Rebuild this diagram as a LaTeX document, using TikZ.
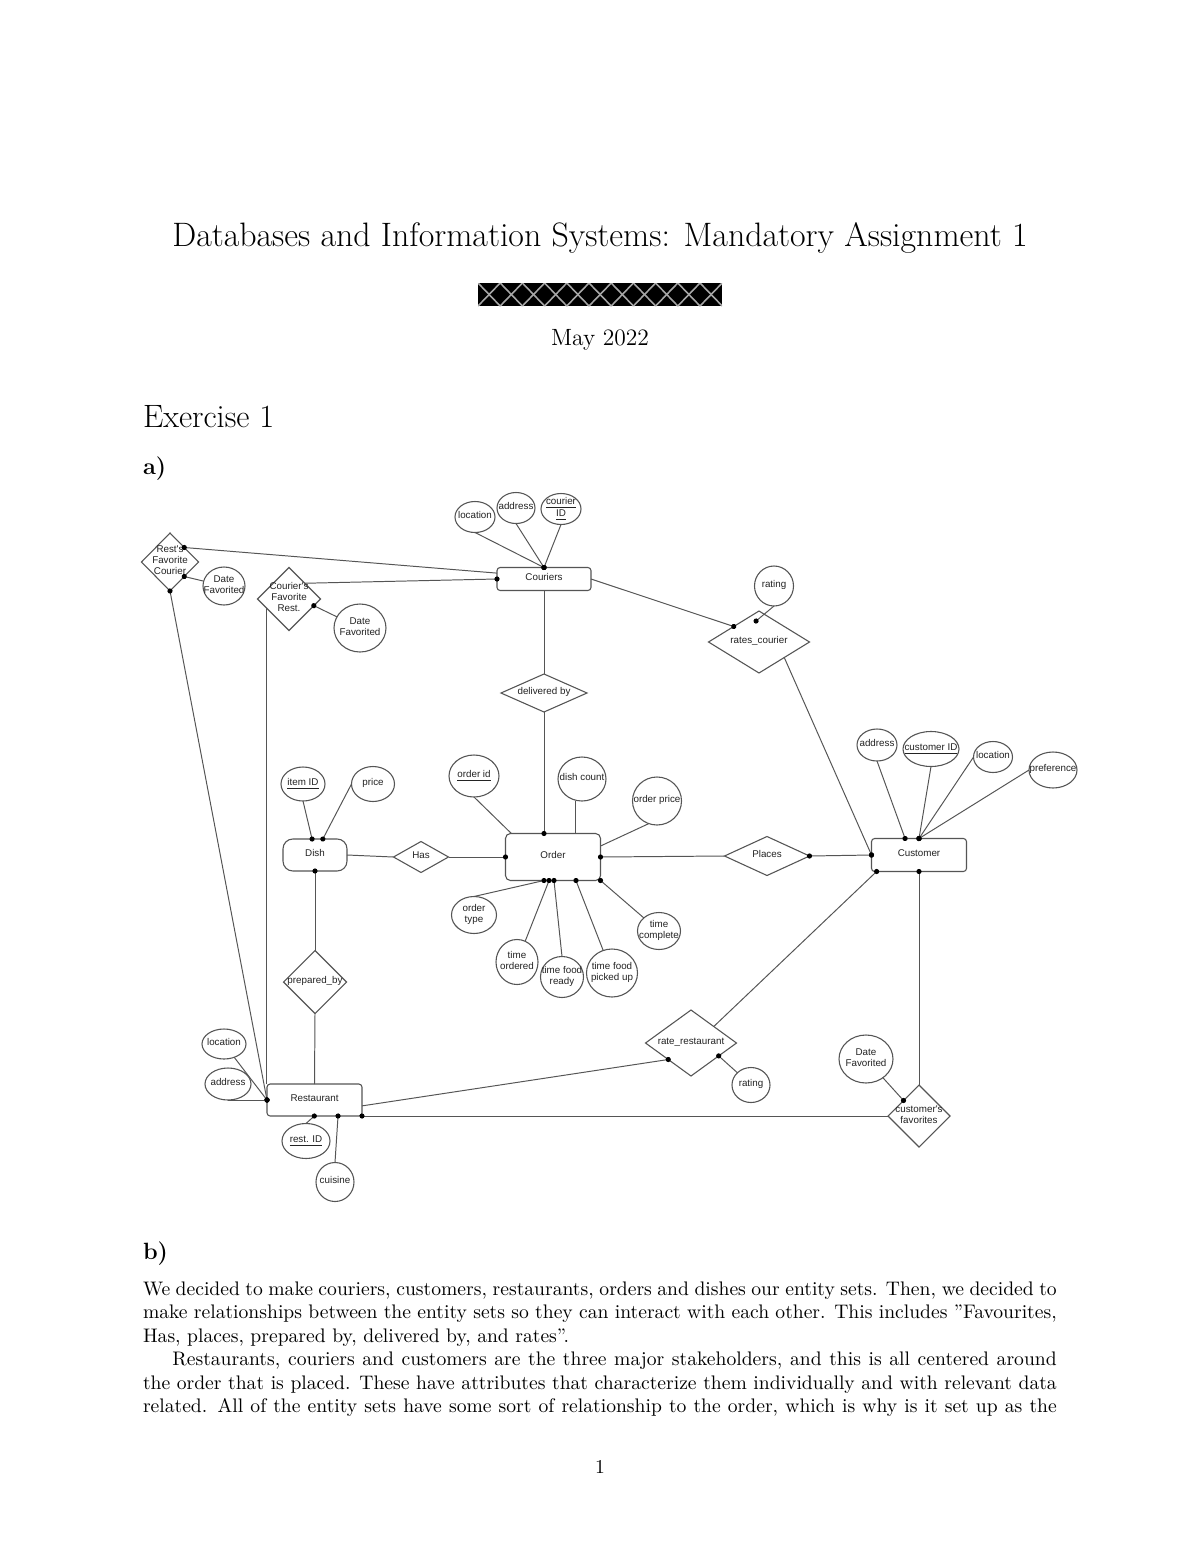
\documentclass[tikz,border=0pt]{standalone}
\usepackage{fontspec}
\newfontfamily\dfont{Liberation Sans}
\usetikzlibrary{shapes.geometric,arrows.meta}
\definecolor{ln}{RGB}{85,85,85}
\definecolor{txt}{RGB}{35,35,35}
\newcommand{\zt}[1]{\raisebox{-1.9pt}{\smash{\makebox[0pt]{\begin{tabular}{@{}c@{}}#1\end{tabular}}}}}
\tikzset{
  base/.style={font=\dfont\fontsize{5}{5.6}\selectfont, text=txt, draw=ln, line width=0.55pt, inner sep=0pt, outer sep=0pt},
  ent/.style 2 args={base, rectangle, rounded corners=1.6pt, minimum width=#1*0.51pt, minimum height=#2*0.51pt},
  rel/.style 2 args={base, diamond, minimum width=#1*0.51pt, minimum height=#2*0.51pt},
  att/.style 2 args={base, ellipse, minimum width=#1*0.51pt, minimum height=#2*0.51pt},
  cn/.style={draw=ln, line width=0.5pt},
  de/.style={-{Circle[length=2.6pt,color=black]}, shorten >=-1.3pt},
  ds/.style={{Circle[length=2.6pt,color=black]}-, shorten <=-1.3pt},
  dd/.style={{Circle[length=2.6pt,color=black]}-{Circle[length=2.6pt,color=black]}, shorten >=-1.3pt, shorten <=-1.3pt},
  pline/.style={anchor=base west, inner sep=0pt, outer sep=0pt}
}
\begin{document}
\begin{tikzpicture}[x=0.51pt,y=-0.51pt]
\fill[white] (0,0) rectangle (1200,1553);
\useasboundingbox (0,0) rectangle (1200,1553);

% ---------- page header ----------
\node[anchor=base, inner sep=0pt] (title) at (600,246) {\LARGE Databases and Information Systems: Mandatory Assignment 1};
\begin{scope}
  \clip (478,283) rectangle (722,306);
  \fill[black] (478,283) rectangle (722,306);
  \foreach \k in {0,...,10} {
    \draw[gray!70, line width=0.8pt] ({478+\k*22.2},306) -- ({478+(\k+1)*22.2},283);
    \draw[gray!70, line width=0.8pt] ({478+\k*22.2},283) -- ({478+(\k+1)*22.2},306);
  }
\end{scope}
\node[anchor=base, inner sep=0pt] (date) at (600,345) {\large May 2022};
\node[pline] (ex) at (143,427) {\fontsize{16.5}{19}\selectfont Exercise 1};
\node[pline] (qa) at (143,474) {\large\bfseries a)};

% ---------- entities ----------
\node[ent={94}{23}] (cour) at (544,579) {\zt{Couriers}};
\node[ent={95}{33}] (cust) at (919,855) {\zt{Customer}};
\node[ent={95}{47}, rounded corners=2.5pt] (ord) at (553,857) {\zt{Order}};
\node[ent={64}{32}, rounded corners=5pt] (dish) at (315,855) {\zt{Dish}};
\node[ent={95}{32}] (rest) at (314.5,1100) {\zt{Restaurant}};

% ---------- relationships ----------
\node[rel={57}{58}] (rfc) at (170,562) {\zt{Rest's\\Favorite\\Courier}};
\node[rel={63}{63}] (cfr) at (289,599) {\zt{Courier's\\Favorite\\Rest.}};
\node[rel={101}{62}] (rc) at (759,642) {\zt{rates\_courier}};
\node[rel={86}{38}] (del) at (544,693) {\zt{delivered by}};
\node[rel={55}{31}] (has) at (421,857) {\zt{Has}};
\node[rel={85}{39}] (plc) at (767,856) {\zt{Places}};
\node[rel={63}{63}] (prep) at (315,982) {\zt{prepared\_by}};
\node[rel={91}{66}] (rr) at (691,1043) {\zt{rate\_restaurant}};
\node[rel={62}{62}] (cf) at (919,1116) {\zt{customer's\\favorites}};

% ---------- attributes ----------
\node[att={40}{31}] (cloc) at (475,517) {\zt{location}};
\node[att={38}{31}] (caddr) at (516,508) {\zt{address}};
\node[att={40}{31}] (cid) at (561,509) {\zt{\underline{courier}\\\underline{ID}}};
\node[att={42}{38}] (df1) at (224,586) {\zt{Date\\Favorited}};
\node[att={52}{48}] (df2) at (360,628) {\zt{Date\\Favorited}};
\node[att={39}{40}] (rat1) at (774,586) {\zt{rating}};
\node[att={40}{32}] (uaddr) at (877,745) {\zt{address}};
\node[att={56}{35}] (uid) at (931,749) {\zt{\underline{customer ID}}};
\node[att={39}{31}] (uloc) at (993,757) {\zt{location}};
\node[att={48}{36}] (upref) at (1053,770) {\zt{preference}};
\node[att={44}{34}] (itemid) at (303,784) {\zt{\underline{item ID}}};
\node[att={43}{35}] (price) at (373,784) {\zt{price}};
\node[att={50}{42}] (oid) at (474,776) {\zt{\underline{order id}}};
\node[att={48}{44}] (dc) at (582,779) {\zt{dish count}};
\node[att={49}{48}] (op) at (657,801) {\zt{order price}};
\node[att={45}{37}] (ot) at (474,915) {\zt{order\\type}};
\node[att={42}{45}] (tor) at (517,962) {\zt{time\\ordered}};
\node[att={43}{41}] (tfr) at (562,977) {\zt{time food\\ready}};
\node[att={51}{48}] (tfp) at (612,973) {\zt{time food\\picked up}};
\node[att={43}{37}] (tc) at (659,931) {\zt{time\\complete}};
\node[att={44}{30}] (rloc) at (224,1044) {\zt{location}};
\node[att={46}{32}] (raddr) at (228,1084) {\zt{address}};
\node[att={48}{35}] (rid) at (306,1141) {\zt{\underline{rest. ID}}};
\node[att={38}{39}] (cuis) at (335,1182) {\zt{cuisine}};
\node[att={38}{35}] (rat2) at (751,1085) {\zt{rating}};
\node[att={54}{48}] (df3) at (866,1059) {\zt{Date\\Favorited}};

% ---------- connectors ----------
% Couriers
\draw[cn,de] (cloc.south) -- (cour.north);
\draw[cn,de] (caddr.south) -- (cour.north);
\draw[cn,de] (cid.south) -- (cour.north);
\draw[cn,ds] (rfc.north east) -- ([yshift=3pt]cour.west);
\draw[cn,de] (cfr.north east) -- (cour.west);
\draw[cn] (cour.south) -- (del.north);
\draw[cn,de] (del.south) -- (del.south |- ord.north);
\draw[cn,de] (cour.east) -- (rc.north west);
\draw[cn,de] (rat1.south) -- ([xshift=-1.5pt,yshift=-5.1pt]rc.north);
\draw[cn,de] (rc.south east) -- (cust.west);
% favourites
\draw[cn,dd] (rfc.south) -- (rest.west);
\draw[cn,ds] (rfc.south east) -- (df1);
\draw[cn,ds] (cfr.-15) -- (df2);
\draw[cn] (cfr.203) -- (cfr.203 |- rest.north);
% Customer
\draw[cn,de] (uaddr.south) -- ([xshift=-7.1pt]cust.north);
\draw[cn,de] (uid.south) -- (cust.north);
\draw[cn,de] (uloc.west) -- (cust.north);
\draw[cn,de] (upref.west) -- (cust.north);
\draw[cn,dd] (plc.east) -- (cust.west);
\draw[cn,de] (rr.north east) -- ([xshift=2.6pt]cust.south west);
\draw[cn,ds] (cust.south) -- (cf.north);
\draw[cn,de] (df3) -- (cf.north west);
% Order
\draw[cn,ds] (ord.east) -- (plc.west);
\draw[cn] (dish.east) -- (has.west);
\draw[cn,de] (has.east) -- (ord.west);
\draw[cn] (oid.south) -- ([xshift=3pt]ord.north west);
\draw[cn] ([xshift=11.7pt]ord.north) -- ([xshift=11.7pt]ord.north |- dc.south);
\draw[cn] (op.250) -- ([yshift=5.6pt]ord.east);
\draw[cn,de] (ot.north) -- ([xshift=-4.6pt]ord.south);
\draw[cn,de] (tor) -- ([xshift=-2pt]ord.south);
\draw[cn,de] (tfr.north) -- ([xshift=0.5pt]ord.south);
\draw[cn,de] (tfp) -- ([xshift=11.7pt]ord.south);
\draw[cn,de] (tc) -- (ord.south east);
% Dish
\draw[cn,de] (itemid.south) -- ([xshift=-1.5pt]dish.north);
\draw[cn,de] (price.west) -- ([xshift=4pt]dish.north);
\draw[cn,ds] (dish.south) -- (prep.north);
\draw[cn] (prep.south) -- (rest.north);
% Restaurant
\draw[cn,de] (rloc) -- (rest.west);
\draw[cn,de] (raddr.south) -- (rest.west);
\draw[cn,ds] ([xshift=-0.1pt]rest.south) -- (rid.north);
\draw[cn,ds] ([xshift=12pt]rest.south) -- (cuis.north);
\draw[cn,ds] (rest.south east) -- (cf.west);
\draw[cn,de] ([yshift=-3pt]rest.east) -- (rr.south west);
\draw[cn,ds] (rr.-25) -- (rat2);

% ---------- text below ----------
\node[pline] (qb) at (143,1259) {\large\bfseries b)};
\node[pline] (p1) at (143,1295) {\makebox[466pt][s]{We decided to make couriers, customers, restaurants, orders and dishes our entity sets. Then, we decided to}};
\node[pline] (p2) at (143,1318.5) {\makebox[466pt][s]{make relationships between the entity sets so they can interact with each other. This includes ''Favourites,}};
\node[pline] (p3) at (143,1342) {Has, places, prepared by, delivered by, and rates''.};
\node[pline] (p4) at (172.4,1365.5) {\makebox[451pt][s]{Restaurants, couriers and customers are the three major stakeholders, and this is all centered around}};
\node[pline] (p5) at (143,1389) {\makebox[466pt][s]{the order that is placed. These have attributes that characterize them individually and with relevant data}};
\node[pline] (p6) at (143,1412.5) {\makebox[466pt][s]{related. All of the entity sets have some sort of relationship to the order, which is why is it set up as the}};
\node[anchor=base, inner sep=0pt] (pg) at (600,1473) {1};
\end{tikzpicture}
\end{document}
